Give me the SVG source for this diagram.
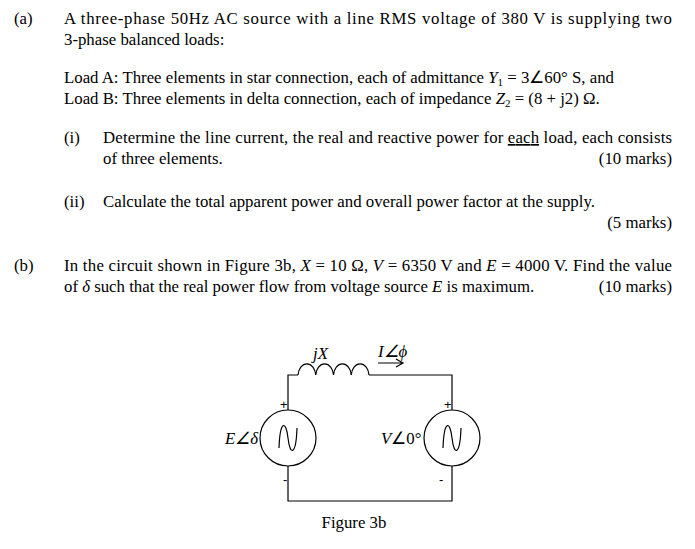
<svg xmlns="http://www.w3.org/2000/svg" width="695" height="549" viewBox="0 0 695 549">
<style>
text{font-family:"Liberation Serif",serif;font-size:16.8px;fill:#000}
.i{font-style:italic}
.w{fill:none;stroke:#000;stroke-width:1.2}
.s{font-family:"Liberation Sans",sans-serif;font-size:13px}
</style>
<rect width="695" height="549" fill="#fff"/>
<g id="text">
<text x="14" y="24">(a)</text>
<text x="64" y="24" textLength="608" lengthAdjust="spacing">A three-phase 50Hz AC source with a line RMS voltage of 380 V is supplying two</text>
<text x="64" y="45">3-phase balanced loads:</text>
<text x="64" y="83">Load A: Three elements in star connection, each of admittance <tspan class="i">Y</tspan><tspan font-size="11" dy="3">1</tspan><tspan dy="-3"> = 3∠60° S, and</tspan></text>
<text x="64" y="104">Load B: Three elements in delta connection, each of impedance <tspan class="i">Z</tspan><tspan font-size="11" dy="3">2</tspan><tspan dy="-3"> = (8 + j2) Ω.</tspan></text>
<text x="64" y="143">(i)</text>
<text x="103" y="143" textLength="569" lengthAdjust="spacing">Determine the line current, the real and reactive power for <tspan text-decoration="underline">each</tspan> load, each consists</text>
<text x="103" y="164">of three elements.</text>
<text x="672" y="164" text-anchor="end">(10 marks)</text>
<text x="64" y="207">(ii)</text>
<text x="103" y="207">Calculate the total apparent power and overall power factor at the supply.</text>
<text x="672" y="228" text-anchor="end">(5 marks)</text>
<text x="14" y="271">(b)</text>
<text x="64" y="271" textLength="608" lengthAdjust="spacing">In the circuit shown in Figure 3b, <tspan class="i">X</tspan> = 10 Ω, <tspan class="i">V</tspan> = 6350 V and <tspan class="i">E</tspan> = 4000 V.  Find the value</text>
<text x="64" y="292">of <tspan class="i">δ</tspan> such that the real power flow from voltage source <tspan class="i">E</tspan> is maximum.</text>
<text x="672" y="292" text-anchor="end">(10 marks)</text>
</g>
<g id="connectors">
<path class="w" d="M288 410 V375 H298 M369 375 H452 V410 M288 466 V501 H452 V466"/>
<path class="w" d="M298 375 a8.9 12 0 0 1 17.75 0 a8.9 12 0 0 1 17.75 0 a8.9 12 0 0 1 17.75 0 a8.9 12 0 0 1 17.75 0"/>
<path class="w" d="M378 363 H403 M396 359 L403 363 L396 367"/>
</g>
<g id="srcE">
<circle class="w" cx="288" cy="438" r="28"/>
<path class="w" d="M279 448 C280 420 286 420 288 438 C290 456 296 456 297 428"/>
<text x="280" y="409" class="s">+</text>
<text x="283" y="484" class="s">-</text>
<text x="258" y="444" text-anchor="end" class="i">E∠δ</text>
</g>
<g id="srcV">
<circle class="w" cx="452" cy="438" r="28"/>
<path class="w" d="M443 448 C444 420 450 420 452 438 C454 456 460 456 461 428"/>
<text x="444" y="409" class="s">+</text>
<text x="439" y="484" class="s">-</text>
<text x="381" y="444"><tspan class="i">V</tspan>∠0°</text>
</g>
<g id="labels">
<text x="313" y="359" class="i">jX</text>
<text x="378" y="357" class="i">I∠ϕ</text>
<text x="354" y="528" text-anchor="middle">Figure 3b</text>
</g>
</svg>
